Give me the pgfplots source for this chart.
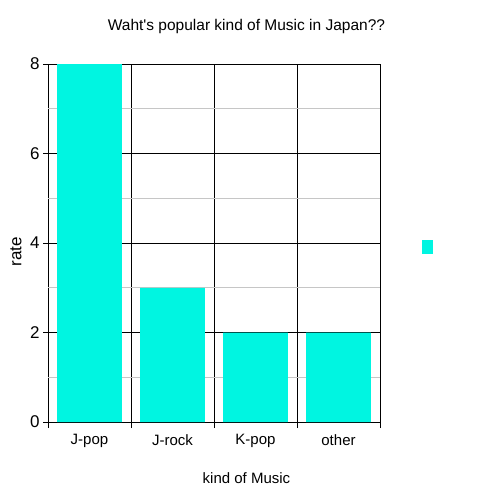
\documentclass[border=0pt]{standalone}
\usepackage{pgfplots}
\pgfplotsset{compat=1.18}
\usepackage{fontspec}
\setmainfont{Liberation Sans}
\definecolor{barc}{HTML}{00F5E1}
\begin{document}
\begin{tikzpicture}
\path[use as bounding box] (0pt,0pt) rectangle (493pt,493pt);
\begin{axis}[at={(48pt,71pt)}, anchor=south west, scale only axis,
  width=332pt, height=358pt,
  xmin=-0.5, xmax=3.5, ymin=0, ymax=8,
  axis line style={black, line width=0.8pt},
  xtick={0,1,2,3}, xticklabels={J-pop,J-rock,K-pop,other},
  major x tick style={draw=none},
  minor xtick={-0.5,0.5,1.5,2.5,3.5},
  xminorgrids, minor x grid style={black, line width=0.8pt},
  minor x tick style={black, line width=0.8pt},
  ytick={0,2,4,6,8},
  ymajorgrids, major y grid style={black, line width=0.8pt},
  major y tick style={black, line width=0.8pt},
  extra y ticks={1,3,5,7}, extra y tick labels={},
  extra y tick style={major y grid style={gray!45, line width=0.6pt}, major tick length=0pt},
  tick align=outside, major tick length=5pt, minor tick length=6pt,
  xtick pos=bottom, ytick pos=left,
  /pgf/number format/assume math mode=true,
  yticklabel style={font=\fontsize{17}{17}\selectfont},
  xticklabel style={font=\fontsize{15}{15}\selectfont, yshift=-4pt},
  legend style={at={(1.15,0.49)}, anchor=center, draw=none, fill=none},
  legend image code/.code={\fill[barc] (-5.5pt,-7pt) rectangle (5.5pt,7pt);},
]
\addplot[ybar, bar width=0.78, fill=barc, draw=none] coordinates {(0,8) (1,3) (2,2) (3,2)};
\addlegendentry{}
\end{axis}
\node[font=\fontsize{15.5}{15.5}\selectfont] at (246.5pt,467pt) {Waht\textquotesingle s popular kind of Music in Japan??};
\node[font=\fontsize{15}{15}\selectfont] at (246.5pt,15pt) {kind of Music};
\node[font=\fontsize{17}{17}\selectfont, rotate=90] at (16pt,241pt) {rate};
\end{tikzpicture}
\end{document}
